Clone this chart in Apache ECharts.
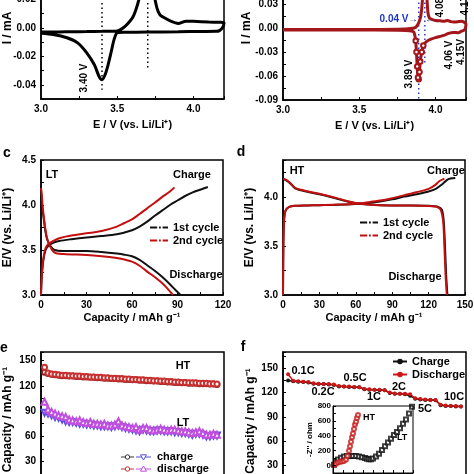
<!DOCTYPE html>
<html>
<head>
<meta charset="utf-8">
<script src="https://cdn.jsdelivr.net/npm/echarts@6/dist/echarts.min.js"></script>
<style>
  html, body { margin: 0; padding: 0; background: #fff; }
  #chart { width: 474px; height: 474px; }
</style>
</head>
<body>
<div id="chart"></div>
<script>
// a: LT cyclic voltammogram (V, mA)
const aV = [3.00, 3.10, 3.20, 3.30, 3.40, 3.50, 3.54, 3.57, 3.60, 3.62, 3.64, 3.66, 3.68, 3.70, 3.72, 3.74, 3.76, 3.78, 3.80, 3.85, 3.90, 3.95, 4.00, 4.10, 4.20,
  4.19, 4.17, 4.15, 4.05, 3.90, 3.70, 3.55, 3.50, 3.48, 3.46, 3.44, 3.42, 3.40, 3.38, 3.35, 3.30, 3.24, 3.17, 3.08, 3.00]
const aI = [-0.003, -0.003, -0.0028, -0.0027, -0.0025, -0.0022, 0.0, 0.003, 0.007, 0.012, 0.019, 0.032, 0.048, 0.058, 0.045, 0.025, 0.014, 0.009, 0.0075, 0.0047, 0.003, 0.0046, 0.0045, 0.004, 0.0035,
  0.0, -0.002, -0.0025, -0.0026, -0.0028, -0.003, -0.0032, -0.0035, -0.008, -0.017, -0.026, -0.033, -0.0365, -0.034, -0.026, -0.0176, -0.0106, -0.007, -0.0047, -0.0038]
const aMarkV = [3.40, 3.70]
const aMarkLow = [-0.0435, -0.028]

// b: HT cyclic voltammogram
const bV = [3.00, 3.20, 3.40, 3.60, 3.80, 3.86, 3.88, 3.90, 3.91, 3.92, 3.93, 3.94, 3.95, 3.96, 3.98, 4.00, 4.03, 4.06, 4.08, 4.10, 4.12, 4.15, 4.17, 4.19, 4.20,
  4.19, 4.17, 4.15, 4.12, 4.08, 4.06, 4.03, 4.00, 3.97, 3.94, 3.92, 3.91, 3.90, 3.895, 3.89, 3.885, 3.88, 3.875, 3.87, 3.86, 3.85, 3.80, 3.60, 3.40, 3.20, 3.00]
const bI = [-0.002, -0.002, -0.002, -0.0018, -0.0012, 0.0, 0.003, 0.012, 0.025, 0.05, 0.075, 0.05, 0.02, 0.0125, 0.0105, 0.0095, 0.009, 0.0085, 0.0095, 0.008, 0.0075, 0.008, 0.0085, 0.007, 0.005,
  -0.0025, -0.004, -0.006, -0.0055, -0.007, -0.009, -0.0105, -0.012, -0.014, -0.017, -0.022, -0.03, -0.042, -0.055, -0.064, -0.062, -0.048, -0.03, -0.016, -0.006, -0.004, -0.003, -0.0025, -0.0025, -0.0025, -0.0025]
const bMarkV = [3.89, 3.93]
const bMarkLow = [-0.088, -0.045]

// c: LT charge / discharge (mAh/g, V)
const c1ChgX = [0, 0.5, 1.5, 3, 5, 8, 12, 20, 30, 40, 50, 60, 65, 70, 75, 80, 85, 90, 95, 100, 105, 110]
const c1ChgY = [3.0, 3.2, 3.38, 3.5, 3.55, 3.58, 3.6, 3.62, 3.64, 3.655, 3.675, 3.72, 3.76, 3.815, 3.88, 3.94, 4.0, 4.05, 4.1, 4.14, 4.17, 4.2]
const c2ChgX = [0, 0.5, 1.5, 3, 5, 8, 12, 20, 30, 40, 50, 55, 60, 65, 70, 75, 80, 85, 88]
const c2ChgY = [3.0, 3.22, 3.4, 3.52, 3.57, 3.6, 3.63, 3.66, 3.685, 3.71, 3.76, 3.8, 3.84, 3.9, 3.963, 4.025, 4.09, 4.15, 4.196]
const c1DisX = [0, 0.5, 1, 2, 3, 4, 6, 9, 15, 30, 40, 50, 55, 60, 65, 70, 75, 80, 85, 89, 92]
const c1DisY = [4.15, 4.05, 3.95, 3.82, 3.7, 3.62, 3.55, 3.5, 3.49, 3.49, 3.478, 3.46, 3.448, 3.43, 3.39, 3.33, 3.27, 3.2, 3.12, 3.05, 3.0]
const c2DisX = [0, 0.5, 1, 2, 3, 4, 6, 9, 15, 30, 40, 50, 55, 60, 65, 70, 75, 80, 84, 87]
const c2DisY = [4.19, 4.12, 4.0, 3.85, 3.72, 3.63, 3.54, 3.47, 3.455, 3.444, 3.43, 3.41, 3.395, 3.37, 3.325, 3.26, 3.2, 3.13, 3.06, 3.0]

// d: HT charge / discharge
const d1ChgX = [0, 0.3, 0.8, 2, 5, 10, 20, 30, 45, 60, 70, 80, 90, 100, 110, 120, 126, 131, 135, 138, 142]
const d1ChgY = [3.0, 3.5, 3.75, 3.86, 3.9, 3.912, 3.916, 3.918, 3.922, 3.93, 3.94, 3.955, 3.978, 4.006, 4.03, 4.058, 4.085, 4.13, 4.175, 4.19, 4.196]
const d2ChgX = [0, 0.3, 0.8, 2, 5, 10, 20, 30, 45, 60, 70, 80, 90, 100, 110, 120, 125, 129, 133]
const d2ChgY = [3.0, 3.5, 3.75, 3.86, 3.9, 3.912, 3.916, 3.918, 3.924, 3.934, 3.948, 3.965, 3.99, 4.02, 4.05, 4.085, 4.12, 4.165, 4.19]
const d1DisX = [0, 3, 6, 10, 15, 20, 30, 40, 50, 60, 70, 80, 100, 120, 128, 131, 132.5, 133.5, 134.5, 135.5]
const d1DisY = [4.185, 4.17, 4.14, 4.09, 4.07, 4.055, 4.03, 4.0, 3.966, 3.938, 3.924, 3.918, 3.915, 3.912, 3.9, 3.87, 3.75, 3.5, 3.2, 3.0]
const d2DisX = [0, 3, 6, 10, 15, 20, 30, 40, 50, 60, 70, 80, 100, 120, 127, 130, 132, 133, 134, 135]
const d2DisY = [4.19, 4.175, 4.145, 4.095, 4.075, 4.06, 4.035, 4.005, 3.97, 3.94, 3.925, 3.918, 3.915, 3.91, 3.9, 3.87, 3.75, 3.5, 3.2, 3.0]

// e: cycling, cycles 1..50
const eCycles = Array.from({ length: 50 }, (_, i) => i + 1)
const htDis = [142, 135, 134, 133.5, 133, 132.5, 132.5, 132, 132, 131.5, 131.5, 131, 131, 130.5, 130.5, 130, 130, 129.5, 129.5, 129, 129, 128.5, 128.5, 128, 128, 127.5, 127.5, 127, 127, 126.5,
  126.5, 126, 126, 125.5, 125.5, 125, 125, 124.5, 124.5, 124, 124, 123.5, 123.5, 123.5, 123, 123, 123, 122.5, 122.5, 122]
const htChg = [136, 134.5, 133.5, 133, 132.5, 132, 132, 131.5, 131.5, 131, 131, 130.5, 130.5, 130, 130, 129.5, 129.5, 129, 129, 128.5, 128.5, 128, 128, 127.5, 127.5, 127, 127, 126.5, 126.5, 126,
  126, 125.5, 125.5, 125, 125, 124.5, 124.5, 124, 124, 123.5, 123.5, 123, 123, 123, 122.5, 122.5, 122.5, 122, 122, 121.5]
const ltDis = [101, 92, 89, 87, 85, 84, 83, 80, 79, 78, 79, 77, 76, 77, 75, 75, 74, 75, 73, 73, 74, 78, 73, 72, 71, 70, 71, 68, 70, 70,
  68, 67, 68, 69, 68, 67, 68, 68, 67, 66, 66, 65, 64, 65, 66, 64, 62, 62, 63, 62]
const ltChg = [88, 87, 85, 83, 82, 80, 78, 77, 77, 76, 75, 75, 74, 74, 73, 73, 72, 72, 72, 71, 72, 73, 71, 70, 69, 68, 67, 66, 68, 67,
  66, 66, 67, 67, 66, 66, 66, 65, 65, 64, 64, 63, 62, 63, 63, 62, 60, 60, 61, 61]

// f: rate capability, cycles 1..35
const fCycles = Array.from({ length: 35 }, (_, i) => i + 1)
const fDis = [142.5, 134.5, 134, 133.5, 133, 131.5, 131, 130.5, 130.5, 130, 128, 127.5, 127.5, 127, 126.5, 124.5, 124, 123.5, 123.5, 123,
  120, 119, 118.5, 118.5, 118, 113, 112, 111.5, 111, 111, 105, 104, 103.5, 103.5, 103]
const fChg = [135, 134, 133.5, 133, 132.5, 131, 130.5, 130.5, 130, 129.5, 127.5, 127.5, 127, 126.5, 126.5, 124, 123.5, 123.5, 123, 123,
  119.5, 118.5, 118.5, 118, 116, 112.5, 111.5, 111, 111, 110.5, 104.5, 103.5, 103.5, 103, 103]
const rateLabels = ['0.1C', '0.2C', '0.5C', '1C', '2C', '5C', '10C']

// f inset: Nyquist (ohm)
const htZre = [15, 30, 50, 70, 90, 110, 130, 145, 160, 170, 180, 190, 200, 210, 220, 230, 240, 250]
const htZim = [10, 25, 40, 50, 55, 60, 80, 130, 200, 260, 320, 380, 430, 490, 550, 590, 640, 680]
const ltZre = [10, 30, 50, 80, 110, 140, 170, 200, 230, 260, 290, 320, 340, 360, 380, 400, 430, 460, 490, 520, 550, 580, 610, 640, 670, 700, 730, 760, 790]
const ltZim = [10, 50, 80, 105, 120, 128, 130, 130, 128, 122, 112, 100, 90, 85, 85, 95, 120, 160, 210, 260, 310, 360, 410, 450, 500, 560, 620, 700, 790]

const FONT = 'Liberation Sans, Arial, sans-serif'
const zip = (xs, ys) => xs.map((x, i) => [x, ys[i]])
const near = (v, step) => Math.abs(v / step - Math.round(v / step)) < 1e-6

function grid(left, top, width, height) {
  return {
    left, top, width, height, show: true, borderColor: '#000', borderWidth: 1.5,
    containLabel: false, outerBoundsMode: 'none'
  }
}

function axis(gridIndex, min, max, interval, labelStep, digits, extra) {
  return Object.assign({
    type: 'value', gridIndex, min, max, interval,
    axisLine: { show: true, onZero: false, lineStyle: { color: '#000', width: 1.5 } },
    axisTick: { show: true, inside: true, length: 3, lineStyle: { color: '#000', width: 1 } },
    splitLine: { show: false },
    axisLabel: {
      color: '#000', fontFamily: FONT, fontWeight: 'bold', fontSize: 10, margin: 5,
      formatter: v => {
        if (!near(v, labelStep) || v > max + 1e-9) return ''
        if (Math.abs(v) < 1e-9) v = 0
        return v.toFixed(digits)
      }
    },
    nameTextStyle: { color: '#000', fontFamily: FONT, fontWeight: 'bold', fontSize: 11 }
  }, extra || {})
}

const xName = (name, gap) => ({ name, nameLocation: 'middle', nameGap: gap })
const yName = (name, gap, size) => ({
  name, nameLocation: 'middle', nameGap: gap,
  nameTextStyle: { color: '#000', fontFamily: FONT, fontWeight: 'bold', fontSize: size || 12 }
})

function txt(x, y, text, opt) {
  opt = opt || {}
  return {
    type: 'text', x, y, rotation: opt.rot || 0, z: 100,
    style: {
      text, font: 'bold ' + (opt.size || 11) + 'px ' + FONT, fill: opt.color || '#000',
      textAlign: opt.align || 'center', textVerticalAlign: 'middle'
    }
  }
}

const RED = '#c40f0f'
const DARKRED = '#a3161a'

const chart = echarts.init(document.getElementById('chart'), null, { renderer: 'canvas' })

const curve = (name, xi, data, color, width, extra) => Object.assign({
  type: 'line', name, xAxisIndex: xi, yAxisIndex: xi, data,
  symbol: 'none', smooth: 0.3, lineStyle: { color, width }, itemStyle: { color },
  animation: false, z: 3
}, extra || {})

const dotted = (xi, data, color) => ({
  type: 'line', xAxisIndex: xi, yAxisIndex: xi, data, symbol: 'none', silent: true,
  lineStyle: { color, width: 1.5, type: [1.5, 3] }, animation: false, z: 2
})

const series = [
  // a
  curve('LT CV', 0, zip(aV, aI), '#000', 3, { smooth: 0.25 }),
  dotted(0, [[aMarkV[0], 0.03], [aMarkV[0], aMarkLow[0]]], '#000'),
  dotted(0, [[aMarkV[1], 0.03], [aMarkV[1], aMarkLow[1]]], '#000'),
  // b: open circles only show where the sweep is steep
  curve('HT CV', 1, zip(bV, bI), DARKRED, 3, {
    smooth: 0.2, symbol: 'emptyCircle', showAllSymbol: true,
    symbolSize: v => (v[0] > 3.865 && v[0] < 3.925 && v[1] < -0.01 ? 4.5 : 0),
    itemStyle: { color: DARKRED, borderWidth: 1 }
  }),
  dotted(1, [[bMarkV[0], 0.06], [bMarkV[0], bMarkLow[0]]], '#2a3fc0'),
  dotted(1, [[bMarkV[1], 0.06], [bMarkV[1], bMarkLow[1]]], '#2a3fc0'),
  // c
  curve('1st cycle', 2, zip(c1ChgX, c1ChgY), '#111', 2),
  curve('1st cycle', 2, zip(c1DisX, c1DisY), '#111', 2),
  curve('2nd cycle', 2, zip(c2ChgX, c2ChgY), RED, 2),
  curve('2nd cycle', 2, zip(c2DisX, c2DisY), RED, 2),
  // d
  curve('1st cycle', 3, zip(d1ChgX, d1ChgY), '#111', 2),
  curve('1st cycle', 3, zip(d1DisX, d1DisY), '#111', 2),
  curve('2nd cycle', 3, zip(d2ChgX, d2ChgY), RED, 2),
  curve('2nd cycle', 3, zip(d2DisX, d2DisY), RED, 2),
  // e
  curve('HT charge', 4, zip(eCycles, htChg), '#8a2020', 1, {
    smooth: false, symbol: 'emptyCircle', symbolSize: 5, showAllSymbol: true, itemStyle: { color: '#8a2020', borderWidth: 1 }
  }),
  curve('HT discharge', 4, zip(eCycles, htDis), '#c83030', 1, {
    smooth: false, symbol: 'emptyCircle', symbolSize: 5, showAllSymbol: true, itemStyle: { color: '#c83030', borderWidth: 1 }
  }),
  curve('LT charge', 4, zip(eCycles, ltChg), '#5a4fe0', 1, {
    smooth: false, symbol: 'emptyTriangle', symbolRotate: 180, symbolSize: 6, showAllSymbol: true, itemStyle: { color: '#5a4fe0', borderWidth: 1 }
  }),
  curve('LT discharge', 4, zip(eCycles, ltDis), '#c04fe0', 1, {
    smooth: false, symbol: 'emptyTriangle', symbolSize: 6, showAllSymbol: true, itemStyle: { color: '#c04fe0', borderWidth: 1 }
  }),
  // f
  curve('Charge', 5, zip(fCycles, fChg), '#111', 1.5, { smooth: false, symbol: 'circle', symbolSize: 4, showAllSymbol: true }),
  curve('Discharge', 5, zip(fCycles, fDis), '#d01515', 1.5, { smooth: false, symbol: 'circle', symbolSize: 4, showAllSymbol: true }),
  // inset
  {
    type: 'scatter', name: 'LT EIS', xAxisIndex: 6, yAxisIndex: 6, data: zip(ltZre, ltZim),
    symbol: 'emptyRect', symbolSize: 4, itemStyle: { color: '#111', borderWidth: 1 }, animation: false, z: 6
  },
  {
    type: 'scatter', name: 'HT EIS', xAxisIndex: 6, yAxisIndex: 6, data: zip(htZre, htZim),
    symbol: 'emptyCircle', symbolSize: 4, itemStyle: { color: '#c41a1a', borderWidth: 1 }, animation: false, z: 7
  }
]

// dash-dot legend icon, as in the original figure
const DASHDOT = 'path://M0,0h8v2h-8z M10,0h2v2h-2z M14,0h6v2h-6z'
const legendBase = {
  orient: 'vertical', itemWidth: 18, itemHeight: 3, itemGap: 2, padding: 0,
  textStyle: { color: '#000', fontFamily: FONT, fontWeight: 'bold', fontSize: 11 },
  selectedMode: false
}

// legend in e drawn by hand: two symbols per row
function eLegendRow(y, c1, c2, sym2Rot, label) {
  return [
    { type: 'line', shape: { x1: 121, y1: y, x2: 134, y2: y }, style: { stroke: c1, lineWidth: 1 }, z: 100 },
    { type: 'circle', shape: { cx: 127.5, cy: y, r: 2.2 }, style: { fill: '#fff', stroke: c1, lineWidth: 1 }, z: 101 },
    { type: 'line', shape: { x1: 136, y1: y, x2: 151, y2: y }, style: { stroke: c2, lineWidth: 1 }, z: 100 },
    {
      type: 'polygon', x: 143.5, y, rotation: sym2Rot,
      shape: { points: [[0, -3], [3, 2.2], [-3, 2.2]] }, style: { fill: '#fff', stroke: c2, lineWidth: 1 }, z: 101
    },
    txt(157, y, label, { align: 'left', size: 11 })
  ]
}

const graphics = [
  txt(8, 28, 'I / mA', { rot: Math.PI / 2, size: 12 }),
  txt(247, 28, 'I / mA', { rot: Math.PI / 2, size: 12 }),
  txt(84, 78, '3.40 V', { rot: Math.PI / 2, size: 10 }),
  txt(409, 74, '3.89 V', { rot: Math.PI / 2, size: 10 }),
  txt(449, 55, '4.06 V', { rot: Math.PI / 2, size: 10 }),
  txt(461, 52, '4.15V', { rot: Math.PI / 2, size: 10 }),
  txt(440, 3, '4.08 V', { rot: Math.PI / 2, size: 10 }),
  txt(465, 1, '4.17 V', { rot: Math.PI / 2, size: 10 }),
  txt(394, 19, '0.04 V', { size: 10, color: '#2036c0' }),
  txt(413, 19, '\u2192', { size: 10, color: '#2036c0' }),
  txt(430, 19, '\u2190', { size: 10, color: '#2036c0' }),
  txt(7, 153, 'c', { size: 14 }),
  txt(52, 175, 'LT', { size: 11 }),
  txt(192, 175, 'Charge', { size: 11 }),
  txt(196, 275, 'Discharge', { size: 11 }),
  txt(241, 152, 'd', { size: 14 }),
  txt(297, 171, 'HT', { size: 11 }),
  txt(446, 171, 'Charge', { size: 11 }),
  txt(415, 277, 'Discharge', { size: 11 }),
  txt(4, 348, 'e', { size: 14 }),
  txt(183, 366, 'HT', { size: 11 }),
  txt(183, 423, 'LT', { size: 11 }),
  txt(243, 347, 'f', { size: 14 }),
  txt(303, 371, rateLabels[0], { size: 11 }),
  txt(323, 392, rateLabels[1], { size: 11 }),
  txt(355, 378, rateLabels[2], { size: 11 }),
  txt(374, 397, rateLabels[3], { size: 11 }),
  txt(399, 387, rateLabels[4], { size: 11 }),
  txt(425, 409, rateLabels[5], { size: 11 }),
  txt(454, 397, rateLabels[6], { size: 11 }),
  txt(363, 418, 'HT', { size: 9, align: 'left' }),
  txt(397, 438, 'LT', { size: 9, align: 'left' }),
  { type: 'rect', shape: { x: 333, y: 406, width: 80, height: 70 }, style: { fill: '#fff' }, z: 4 },
  ...eLegendRow(457, '#333', '#5a4fe0', Math.PI, 'charge'),
  ...eLegendRow(469, '#c83030', '#c04fe0', 0, 'discharge')
]

const insetY = axis(6, -100, 800, 100, 200, 0, Object.assign(yName("-Z'' / ohm", 14, 8), { z: 11 }))
insetY.axisLabel.fontSize = 8
insetY.axisLabel.margin = 2
insetY.axisLabel.formatter = v => (v < 0 || !near(v, 200) ? '' : String(v))
insetY.axisLine = { show: true, onZero: false, lineStyle: { color: '#000', width: 1 } }

const insetX = axis(6, 0, 800, 100, 200, 0, { z: 11 })
insetX.axisLabel.fontSize = 8
insetX.axisLine = { show: true, onZero: false, lineStyle: { color: '#000', width: 1 } }

const option = {
  backgroundColor: '#fff',
  animation: false,
  grid: [
    grid(41, -15, 183, 114),
    grid(283, -20, 183, 120),
    grid(41, 160, 182, 135),
    grid(283, 160, 182, 135),
    grid(41, 352, 183, 135),
    grid(283, 352, 183, 138),
    Object.assign(grid(333, 406, 80, 67), { borderWidth: 1, z: 10 })
  ],
  xAxis: [
    axis(0, 3.0, 4.2, 0.25, 0.5, 1, xName('E / V (vs. Li/Li\u207A)', 20)),
    axis(1, 3.0, 4.2, 0.25, 0.5, 1, xName('E / V (vs. Li/Li\u207A)', 20)),
    axis(2, 0, 120, 15, 30, 0, xName('Capacity / mAh g\u207B\u00B9', 17)),
    axis(3, 0, 150, 15, 30, 0, xName('Capacity / mAh g\u207B\u00B9', 17)),
    axis(4, 0, 52, 10, 10, 0),
    axis(5, 0, 36, 5, 5, 0),
    insetX
  ],
  yAxis: [
    axis(0, -0.05, 0.03, 0.01, 0.02, 2),
    axis(1, -0.09, 0.06, 0.015, 0.03, 2),
    axis(2, 3.0, 4.5, 0.25, 0.5, 1, yName('E/V (vs. Li/Li\u207A)', 27)),
    axis(3, 3.0, 4.38, 0.25, 0.5, 1, yName('E/V (vs. Li/Li\u207A)', 27)),
    axis(4, 0, 160, 15, 30, 0, yName('Capacity / mAh g\u207B\u00B9', 27)),
    axis(5, 0, 170, 15, 30, 0, yName('Capacity / mAh g\u207B\u00B9', 26)),
    insetY
  ],
  legend: [
    Object.assign({}, legendBase, {
      left: 150, top: 222,
      data: [{ name: '1st cycle', icon: DASHDOT }, { name: '2nd cycle', icon: DASHDOT }]
    }),
    Object.assign({}, legendBase, {
      left: 360, top: 217,
      data: [{ name: '1st cycle', icon: DASHDOT }, { name: '2nd cycle', icon: DASHDOT }]
    }),
    Object.assign({}, legendBase, {
      left: 392, top: 356, itemWidth: 14, itemHeight: 7, data: ['Charge', 'Discharge']
    })
  ],
  graphic: graphics,
  series
}

chart.setOption(option)
</script>
</body>
</html>
